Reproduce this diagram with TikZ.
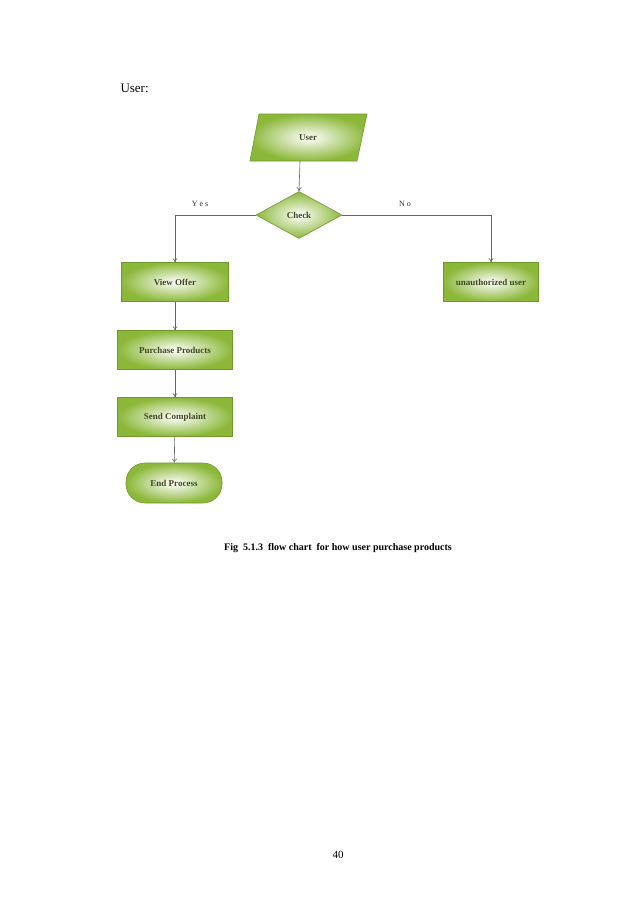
\documentclass[tikz,border=0pt]{standalone}
\usepackage{fontspec}
\setmainfont{Liberation Serif}
\newfontfamily\boxfont{Liberation Serif}
\usetikzlibrary{shapes.geometric,arrows.meta}
\definecolor{gfill}{HTML}{8CB83A}
\definecolor{gline}{HTML}{6E9A2A}
\definecolor{gtext}{HTML}{3E4A22}
\begin{document}
\begin{tikzpicture}[x=1pt,y=-1pt,
  shade box/.style={draw=gline, line width=0.6pt, inner color=white, outer color=gfill, text=gtext, font=\boxfont\bfseries\fontsize{9}{10}\selectfont},
  procbox/.style={shade box, rectangle, minimum height=39pt, inner sep=0pt},
  conn/.style={draw=black!60, line width=0.6pt, -{To[length=4pt,width=5pt]}},
  lbl/.style={font=\fontsize{8}{9}\selectfont, text=black!80}]
\useasboundingbox (0,0) rectangle (638,903);
\fill[white] (0,0) rectangle (638,903);
\node[anchor=west, font=\fontsize{13}{15}\selectfont] (title) at (117,88) {User:};
\shade[inner color=white, outer color=gfill, draw=gline, line width=0.6pt] (259,114) -- (367,114) -- (357,161) -- (250,161) -- cycle;
\node[text=gtext, font=\boxfont\bfseries\fontsize{9}{10}\selectfont, minimum width=100pt, minimum height=47pt, inner sep=0pt] (user) at (300,137.5) {\hspace*{16pt}User};
\node[shade box, diamond, minimum width=86pt, minimum height=47pt, inner sep=0pt] (check) at (299,215) {Check};
\node[procbox, minimum width=107pt] (view) at (175,282) {View Offer};
\node[procbox, minimum width=95pt] (unauth) at (491,282) {unauthorized user};
\node[procbox, minimum width=115pt] (purch) at (175,350) {Purchase Products};
\node[procbox, minimum width=115pt] (send) at (175,417) {Send Complaint};
\node[shade box, rectangle, rounded corners=19pt, minimum width=96pt, minimum height=40pt, inner sep=0pt] (endp) at (174,483) {End Process};
\coordinate (cy) at (175,215);
\coordinate (cn) at (491,215);
\draw[conn] (user.south) -- (check.north);
\draw[conn] (check.west) -- (cy) -- (view.north);
\draw[conn] (check.east) -- (cn) -- (unauth.north);
\draw[conn] (view) -- (purch);
\draw[conn] (purch) -- (send);
\draw[conn] (send) -- (endp);
\node[lbl] (yes) at (200,204) {Y e s};
\node[lbl] (no) at (405,204) {N o};
\node[font=\bfseries\fontsize{10}{12}\selectfont] (cap) at (338,548) {Fig\ \ 5.1.3\ \ flow chart\ \ for how user purchase products};
\node[font=\fontsize{11}{13}\selectfont] (page) at (338,855) {40};
\end{tikzpicture}
\end{document}
